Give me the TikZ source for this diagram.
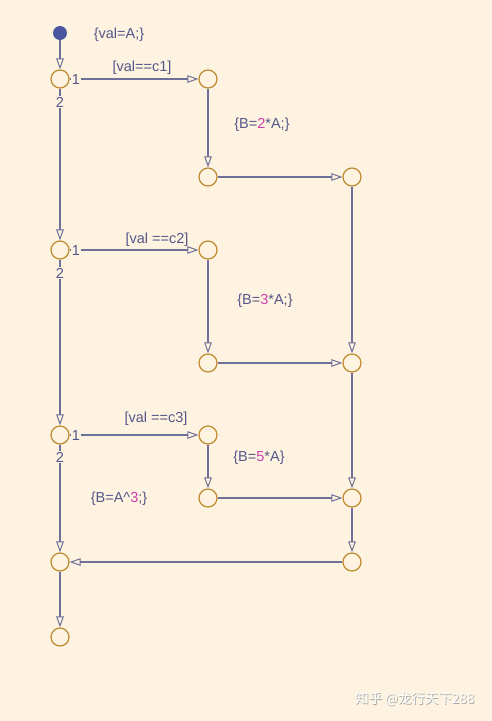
\documentclass[tikz,border=0pt]{standalone}
\usepackage{fontspec}
\setmainfont{Liberation Sans}
\newfontfamily\cjk{Noto Sans CJK SC}
\usetikzlibrary{arrows.meta}
\definecolor{bg}{HTML}{FDF3E0}
\definecolor{ln}{HTML}{6E7099}
\definecolor{jc}{HTML}{BF8A30}
\definecolor{tx}{HTML}{55578A}
\definecolor{mg}{HTML}{CC3FAF}
\definecolor{dotc}{HTML}{4A55A0}
\tikzset{
  junc/.style={circle,draw=jc,line width=1.2pt,fill=bg,minimum size=18pt,inner sep=0pt},
  conn/.style={draw=ln,line width=1.1pt,-{Triangle[open,length=11pt,width=7.5pt,line width=1pt]}},
  lbl/.style={text=tx,font=\fontsize{14.5}{16}\selectfont,inner sep=1pt,yshift=-2pt},
  num/.style={text=tx,font=\fontsize{14.5}{16}\selectfont,fill=bg,inner sep=0.5pt,yshift=-1pt},
}
\begin{document}
\begin{tikzpicture}[x=1pt,y=-1pt]
\fill[bg] (0,0) rectangle (492,721);
\useasboundingbox (0,0) rectangle (492,721);
\node[circle,fill=dotc,minimum size=14pt,inner sep=0pt] (s) at (60,33) {};
\node[junc] (j1) at (60,79) {};
\node[junc] (j1b) at (208,79) {};
\node[junc] (j1c) at (208,177) {};
\node[junc] (r1) at (352,177) {};
\node[junc] (j2) at (60,250) {};
\node[junc] (j2b) at (208,250) {};
\node[junc] (j2c) at (208,363) {};
\node[junc] (r2) at (352,363) {};
\node[junc] (j3) at (60,435) {};
\node[junc] (j3b) at (208,435) {};
\node[junc] (j3c) at (208,498) {};
\node[junc] (r3) at (352,498) {};
\node[junc] (r4) at (352,562) {};
\node[junc] (m) at (60,562) {};
\node[junc] (e) at (60,637) {};

\draw[conn] (s) -- (j1);
\draw[conn] (j1) -- (j1b);
\draw[conn] (j1) -- (j2);
\draw[conn] (j1b) -- (j1c);
\draw[conn] (j1c) -- (r1);
\draw[conn] (r1) -- (r2);
\draw[conn] (j2) -- (j2b);
\draw[conn] (j2) -- (j3);
\draw[conn] (j2b) -- (j2c);
\draw[conn] (j2c) -- (r2);
\draw[conn] (r2) -- (r3);
\draw[conn] (j3) -- (j3b);
\draw[conn] (j3) -- (m);
\draw[conn] (j3b) -- (j3c);
\draw[conn] (j3c) -- (r3);
\draw[conn] (r3) -- (r4);
\draw[conn] (r4) -- (m);
\draw[conn] (m) -- (e);

\node[num] (n11) at (76,79) {1};
\node[num] (n12) at (60,101) {2};
\node[num] (n21) at (76,250) {1};
\node[num] (n22) at (60,272) {2};
\node[num] (n31) at (76,435) {1};
\node[num] (n32) at (60,456) {2};

\node[lbl] (a0) at (119,33) {\{val=A;\}};
\node[lbl] (g1) at (142,66) {[val==c1]};
\node[lbl] (a1) at (262,123) {\{B=\textcolor{mg}{2}*A;\}};
\node[lbl] (g2) at (157,238) {[val ==c2]};
\node[lbl] (a2) at (265,299) {\{B=\textcolor{mg}{3}*A;\}};
\node[lbl] (g3) at (156,417) {[val ==c3]};
\node[lbl] (a3) at (259,456) {\{B=\textcolor{mg}{5}*A\}};
\node[lbl] (a4) at (119,497) {\{B=A\^{}\textcolor{mg}{3};\}};

\node[text=black!35,font=\cjk\fontsize{13.5}{15}\selectfont] (wms) at (415.7,699.7) {知乎 @龙行天下288};
\node[text=white,font=\cjk\fontsize{13.5}{15}\selectfont] (wm) at (415,699) {知乎 @龙行天下288};
\end{tikzpicture}
\end{document}
